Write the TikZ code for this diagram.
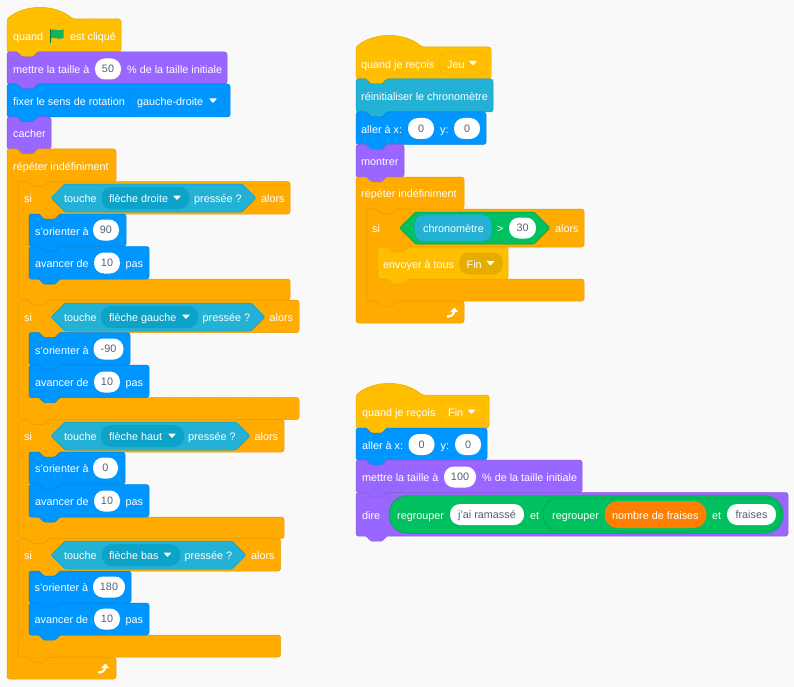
\documentclass[tikz,border=0pt]{standalone}
\usepackage{fontspec}
\setmainfont{Liberation Sans}
\definecolor{paper}{HTML}{F9F9F9}
\definecolor{gridspot}{HTML}{DEDEDE}
\definecolor{ink}{HTML}{575E75}
\definecolor{eventfill}{HTML}{FFBF00}
\definecolor{eventline}{HTML}{E6AC00}
\definecolor{motionfill}{HTML}{0096FF}
\definecolor{motionline}{HTML}{0084E0}
\definecolor{looksfill}{HTML}{9966FF}
\definecolor{looksline}{HTML}{855CD6}
\definecolor{ctrlfill}{HTML}{FFAB00}
\definecolor{ctrlline}{HTML}{E89C00}
\definecolor{sensefill}{HTML}{24B1D6}
\definecolor{senseline}{HTML}{0DA2C8}
\definecolor{opfill}{HTML}{00C05F}
\definecolor{opline}{HTML}{00A04F}
\definecolor{varfill}{HTML}{FF8000}
\definecolor{flaggreen}{HTML}{12B35A}
\tikzset{
  block/.style={rounded corners=2.5pt,line width=.5pt},
  event/.style={block,fill=eventfill,draw=eventline},
  motion/.style={block,fill=motionfill,draw=motionline},
  looks/.style={block,fill=looksfill,draw=looksline},
  ctrl/.style={block,fill=ctrlfill,draw=ctrlline},
  sense/.style={block,rounded corners=1.2pt,fill=sensefill,draw=senseline},
  oper/.style={block,rounded corners=1.2pt,fill=opfill,draw=opline},
  lab/.style={anchor=base west,inner sep=0pt,yshift=-.4pt,text=white,font=\fontsize{10.8}{13}\selectfont},
  pill/.style={fill=white,rounded corners=10pt,inner sep=0pt,minimum height=21,text=ink,text height=7.8,text depth=.2,font=\fontsize{10.8}{13}\selectfont},
  drop/.style={pill,line width=.4pt,text=white,rounded corners=4pt,minimum height=22},
  dropdark/.style={drop,rounded corners=10pt}
}
% stack block: style, x1, y1, x2, y2
\newcommand{\stackblock}[5]{
  \draw[#1] (#2,#3) [rounded corners=.8pt] --(#2+10,#3)--(#2+15,#3+5)--(#2+26,#3+5)--(#2+31,#3) [rounded corners=2.5pt] --(#4,#3)--(#4,#5)
    [rounded corners=.8pt] --(#2+31,#5)--(#2+26,#5+5)--(#2+15,#5+5)--(#2+10,#5) [rounded corners=2.5pt] --(#2,#5)--cycle;
}
% hat block: style, x1, y1, x2, y2
\newcommand{\hatblock}[5]{
  \draw[#1] (#2,#3) .. controls (#2+18,#3-15) and (#2+48,#3-15) .. (#2+66,#3)--(#4,#3)--(#4,#5)
    [rounded corners=.8pt] --(#2+31,#5)--(#2+26,#5+5)--(#2+15,#5+5)--(#2+10,#5) [rounded corners=2.5pt] --(#2,#5)--cycle;
}
% si block: x1, y1, x2, y2 (head), y3 (foot), y4
\newcommand{\ifblock}[6]{
  \draw[ctrl] (#1,#2) [rounded corners=.8pt] --(#1+10,#2)--(#1+15,#2+5)--(#1+26,#2+5)--(#1+31,#2) [rounded corners=2.5pt] --(#3,#2)--(#3,#4)
    [rounded corners=.8pt] --(#1+42,#4)--(#1+37,#4+5)--(#1+26,#4+5)--(#1+21,#4) [rounded corners=2.5pt] --(#1+11,#4)--(#1+11,#5)--(#3,#5)--(#3,#6)
    [rounded corners=.8pt] --(#1+31,#6)--(#1+26,#6+5)--(#1+15,#6+5)--(#1+10,#6) [rounded corners=2.5pt] --(#1,#6)--cycle;
}
% forever block, flat bottom: x1, y1, x2, y2 (head), y3 (foot), y4
\newcommand{\foreverblock}[6]{
  \draw[ctrl] (#1,#2) [rounded corners=.8pt] --(#1+10,#2)--(#1+15,#2+5)--(#1+26,#2+5)--(#1+31,#2) [rounded corners=2.5pt] --(#3,#2)--(#3,#4)
    [rounded corners=.8pt] --(#1+42,#4)--(#1+37,#4+5)--(#1+26,#4+5)--(#1+21,#4) [rounded corners=2.5pt] --(#1+11,#4)--(#1+11,#5)--(#3,#5)--(#3,#6)--(#1,#6)--cycle;
}
% six sided boolean: style, x1, x2, ymid, half height
\newcommand{\boolshape}[5]{
  \draw[#1] (#2,#4)--(#2+#5,#4-#5)--(#3-#5,#4-#5)--(#3,#4)--(#3-#5,#4+#5)--(#2+#5,#4+#5)--cycle;
}
\newcommand{\droptip}[2]{
  \fill[white,rounded corners=.6pt] (#1-4,#2-2)--(#1+4,#2-2)--(#1,#2+2.6)--cycle;
}
\newcommand{\looparrow}[2]{
  \draw[white,line width=2.2pt] (#1-5,#2+4.5) .. controls (#1-1,#2+4.5) and (#1+2,#2+3) .. (#1+2,#2-1);
  \fill[white] (#1-2,#2)--(#1+2.5,#2-4.5)--(#1+6,#2)--cycle;
}
\begin{document}
\begin{tikzpicture}[x=1pt,y=-1pt]
 \useasboundingbox (0,0) rectangle (794,687);
 \fill[paper] (0,0) rectangle (794,687);
 \foreach \i in {0,...,29}{
   \foreach \j in {0,...,25}{
     \fill[gridspot] (8+27*\i,18+27*\j) circle (.7);
   }
 }
 % first stack
 \hatblock{event}{7}{19}{121}{52}
 \stackblock{looks}{7}{52}{227}{84}
 \stackblock{motion}{7}{84}{230}{117}
 \stackblock{looks}{7}{117}{51}{149}
 \foreverblock{7}{149}{116}{181.5}{657}{679}
 \ifblock{18}{181.5}{290}{214}{279}{300}
 \stackblock{motion}{29}{214}{126}{246.5}
 \stackblock{motion}{29}{246.5}{149}{279}
 \ifblock{18}{300}{299}{332.5}{397.5}{419.5}
 \stackblock{motion}{29}{332.5}{130}{365}
 \stackblock{motion}{29}{365}{149}{397.5}
 \ifblock{18}{419.5}{284}{452}{517}{538.5}
 \stackblock{motion}{29}{452}{125}{484.5}
 \stackblock{motion}{29}{484.5}{149}{517}
 \ifblock{18}{538.5}{280.5}{571}{635}{657}
 \stackblock{motion}{29}{571}{131}{603}
 \stackblock{motion}{29}{603}{149}{635}
 \node[lab] (quand) at (13,40) {quand};
 \draw[flaggreen!65!black,line width=1pt] (50.5,29)--(50.5,43);
 \fill[flaggreen] (51,30) .. controls (55,28) and (58,32) .. (63.5,29.5) -- (63.5,38) .. controls (58,40.5) and (55,36.5) .. (51,38.5) -- cycle;
 \node[lab] (clique) at (70,40) {est cliqué};
 \node[lab] (taille) at (13,73) {mettre la taille à};
 \node[pill,minimum width=26] (t50) at (108,69) {50};
 \node[lab] (init) at (127,73) {\% de la taille initiale};
 \node[lab] (fixer) at (13,105) {fixer le sens de rotation};
 \node[drop,fill=motionfill,draw=motionline,minimum width=95] (sens) at (177,101) {};
 \node[lab] (sensl) at (137,105) {gauche-droite};
 \droptip{213}{100.5}
 \node[lab] (cacher) at (13,137) {cacher};
 \node[lab] (rep) at (13,170) {répéter indéfiniment};
 % si droite
 \node[lab] (si1) at (24,202) {si};
 \boolshape{sense}{51}{256}{198}{14}
 \node[lab] (tou1) at (64,202) {touche};
 \node[dropdark,fill=senseline,minimum width=88] (dr1) at (145.5,198) {};
 \node[lab] (fl1) at (109,202) {flèche droite};
 \droptip{177}{197.5}
 \node[lab] (pr1) at (194,202) {pressée ?};
 \node[lab] (al1) at (261,202) {alors};
 \node[lab] (or1) at (35,235) {s'orienter à};
 \node[pill,minimum width=26] (v1) at (106,230) {90};
 \node[lab] (av1) at (35,267) {avancer de};
 \node[pill,minimum width=26] (d1) at (107,263) {10};
 \node[lab] (pa1) at (125.5,267) {pas};
 % si gauche
 \node[lab] (si2) at (24,321) {si};
 \boolshape{sense}{51}{265}{317}{14}
 \node[lab] (tou2) at (64,321) {touche};
 \node[dropdark,fill=senseline,minimum width=97] (dr2) at (149.5,317) {};
 \node[lab] (fl2) at (109,321) {flèche gauche};
 \droptip{186}{316.5}
 \node[lab] (pr2) at (202.5,321) {pressée ?};
 \node[lab] (al2) at (269.5,321) {alors};
 \node[lab] (or2) at (35,354) {s'orienter à};
 \node[pill,minimum width=30] (v2) at (108.5,349) {-90};
 \node[lab] (av2) at (35,386) {avancer de};
 \node[pill,minimum width=26] (d2) at (107,382) {10};
 \node[lab] (pa2) at (125.5,386) {pas};
 % si haut
 \node[lab] (si3) at (24,440) {si};
 \boolshape{sense}{51}{250}{436}{14}
 \node[lab] (tou3) at (64,440) {touche};
 \node[dropdark,fill=senseline,minimum width=83] (dr3) at (142.5,436) {};
 \node[lab] (fl3) at (109,440) {flèche haut};
 \droptip{172}{435.5}
 \node[lab] (pr3) at (188,440) {pressée ?};
 \node[lab] (al3) at (254.5,440) {alors};
 \node[lab] (or3) at (35,472) {s'orienter à};
 \node[pill,minimum width=25] (v3) at (105.5,468) {0};
 \node[lab] (av3) at (35,505) {avancer de};
 \node[pill,minimum width=26] (d3) at (107,501) {10};
 \node[lab] (pa3) at (125.5,505) {pas};
 % si bas
 \node[lab] (si4) at (24,559) {si};
 \boolshape{sense}{51}{246}{555}{14}
 \node[lab] (tou4) at (64,559) {touche};
 \node[dropdark,fill=senseline,minimum width=78] (dr4) at (141,555) {};
 \node[lab] (fl4) at (109,559) {flèche bas};
 \droptip{167.5}{554.5}
 \node[lab] (pr4) at (184.5,559) {pressée ?};
 \node[lab] (al4) at (251,559) {alors};
 \node[lab] (or4) at (34.5,591) {s'orienter à};
 \node[pill,minimum width=32] (v4) at (109,587) {180};
 \node[lab] (av4) at (34.5,623) {avancer de};
 \node[pill,minimum width=26] (d4) at (107,619) {10};
 \node[lab] (pa4) at (125.5,623) {pas};
 \looparrow{103}{668}
 % second stack
 \hatblock{event}{356}{47}{491}{79}
 \stackblock{sense}{356}{79}{493}{112}
 \stackblock{motion}{356}{112}{486}{144.5}
 \stackblock{looks}{356}{144.5}{404}{177}
 \foreverblock{356}{177}{464}{209}{301}{323}
 \ifblock{366.5}{209}{584}{247}{279}{301}
 \stackblock{event}{377.5}{247}{508}{279}
 \node[lab] (recu1) at (361,68) {quand je reçois};
 \node[drop,fill=eventfill,draw=eventline,minimum width=46] (jeu) at (463,63.5) {};
 \node[lab] (jeul) at (447,68) {Jeu};
 \droptip{473}{63}
 \node[lab] (reset) at (361,100) {réinitialiser le chronomètre};
 \node[lab] (alx1) at (361,133) {aller à x:};
 \node[pill,minimum width=26] (x1) at (421,128.5) {0};
 \node[lab] (aly1) at (440,133) {y:};
 \node[pill,minimum width=26] (y1) at (467,128.5) {0};
 \node[lab] (mont) at (361,165) {montrer};
 \node[lab] (rep2) at (361,197) {répéter indéfiniment};
 \node[lab] (si5) at (372,232) {si};
 \boolshape{oper}{399.5}{550}{228}{16}
 \node[dropdark,fill=sensefill,draw=senseline,minimum width=77,minimum height=27] (chrono) at (453,228) {};
 \node[lab] (chronol) at (423,232) {chronomètre};
 \node[lab] (gt) at (497,232) {>};
 \node[pill,minimum width=27] (t30) at (522.5,228) {30};
 \node[lab] (al5) at (555,232) {alors};
 \node[lab] (env) at (383,268) {envoyer à tous};
 \node[dropdark,fill=eventline,minimum width=44] (fin1) at (481,263.5) {};
 \node[lab] (fin1l) at (466.5,268) {Fin};
 \droptip{490.5}{263}
 \looparrow{452}{312}
 % third stack
 \hatblock{event}{356}{395}{489}{428}
 \stackblock{motion}{356}{428}{487}{460}
 \stackblock{looks}{356}{460}{582}{492.5}
 \stackblock{looks}{356}{492.5}{788}{536}
 \node[lab] (recu2) at (362,416) {quand je reçois};
 \node[drop,fill=eventfill,draw=eventline,minimum width=44] (fin2) at (462,412) {};
 \node[lab] (fin2l) at (448,416) {Fin};
 \droptip{471.5}{411.5}
 \node[lab] (alx2) at (362,449) {aller à x:};
 \node[pill,minimum width=26] (x2) at (421.5,444.5) {0};
 \node[lab] (aly2) at (440.5,449) {y:};
 \node[pill,minimum width=26] (y2) at (468,444.5) {0};
 \node[lab] (taille2) at (362,481) {mettre la taille à};
 \node[pill,minimum width=32] (t100) at (460,477) {100};
 \node[lab] (init2) at (482,481) {\% de la taille initiale};
 \node[lab] (dire) at (362,519) {dire};
 \node[oper,rounded corners=18pt,minimum width=394,minimum height=37.5,inner sep=0pt] (reg1) at (586,514.5) {};
 \node[lab] (reg1l) at (397,519) {regrouper};
 \node[pill,minimum width=74] (ramasse) at (487,514.5) {j'ai ramassé};
 \node[lab] (et1) at (530,519) {et};
 \node[oper,rounded corners=16pt,minimum width=238,minimum height=33,inner sep=0pt] (reg2) at (662,514.5) {};
 \node[lab] (reg2l) at (552,519) {regrouper};
 \node[block,fill=varfill,draw=none,rounded corners=13pt,minimum width=102,minimum height=27,inner sep=0pt] (nb) at (655.5,514.5) {};
 \node[lab] (nbl) at (612,519) {nombre de fraises};
 \node[lab] (et2) at (712,519) {et};
 \node[pill,minimum width=49] (fr) at (751.5,514.5) {fraises};
\end{tikzpicture}
\end{document}
